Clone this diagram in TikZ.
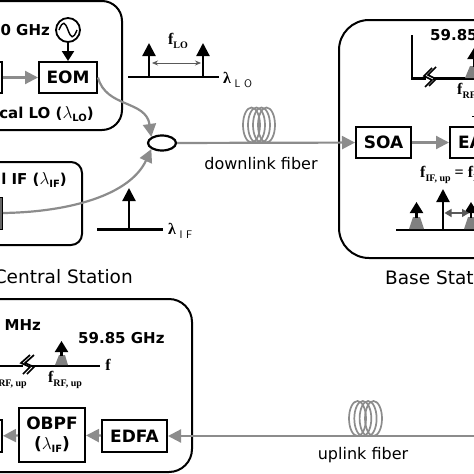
\documentclass[tikz,border=0pt]{standalone}
\usepackage{fontspec}
\setmainfont{DejaVu Sans}
\newfontfamily\serifb{Liberation Serif}
\usetikzlibrary{arrows.meta,shapes.geometric}
\definecolor{gline}{gray}{0.55}
\definecolor{gfill}{gray}{0.5}
\newcommand{\lowsub}[1]{\raisebox{-3pt}{\fontsize{10}{10}\selectfont #1}}
\newcommand{\sersub}[1]{\raisebox{-3.5pt}{\fontsize{10}{10}\selectfont #1}}
\newcommand{\wsub}[1]{\raisebox{-4pt}{\sffamily\mdseries\fontsize{11}{11}\selectfont #1}}
\newcommand{\lam}{\fontsize{16}{16}\selectfont$\lambda$}
\tikzset{
 x=1pt,y=-1pt,
 bx/.style={draw=black,line width=2pt,fill=white,font=\bfseries\fontsize{17}{19}\selectfont,inner sep=0pt,align=center},
 panel/.style={draw=black,line width=2pt},
 gar/.style={draw=gline,line width=2.2pt,-{Triangle[length=13pt,width=13pt]}},
 base/.style={draw=black,line width=2.2pt},
 spike/.style={draw=black,line width=2.2pt,-{Triangle[length=13pt,width=13pt]}},
 spikes/.style={draw=black,line width=2.2pt,-{Triangle[length=11pt,width=13pt]}},
 stationlabel/.style={font=\fontsize{18.5}{20}\selectfont,inner sep=0pt},
 fib/.style={font=\fontsize{16}{18}\selectfont,inner sep=0pt},
 lab/.style={font=\bfseries\fontsize{15}{17}\selectfont,inner sep=0pt},
 sf/.style={font=\serifb\bfseries\fontsize{16}{18}\selectfont,inner sep=0pt},
 thin2/.style={draw=black!65,line width=.7pt,{Stealth[length=6pt,width=5pt]}-{Stealth[length=6pt,width=5pt]}},
 thick2/.style={draw=black!65,line width=1.2pt,{Triangle[length=7pt,width=8pt]}-{Triangle[length=7pt,width=8pt]}},
 blob/.style={draw=none,fill=gfill},
 coil/.style={draw=gline,line width=1.7pt},
 zig/.style={draw=black,line width=1.7pt},
}
\begin{document}
\begin{tikzpicture}
\useasboundingbox (0,0) rectangle (474,474);
\clip (0,0) rectangle (474,474);
\fill[white] (0,0) rectangle (474,474);
% panels
\draw[panel,rounded corners=20pt] (-60,1) rectangle (122,130);
\draw[panel,rounded corners=11pt] (-60,162) rectangle (82,245);
\draw[panel,rounded corners=30pt] (339,20) rectangle (530,258);
\draw[panel,rounded corners=23pt] (-60,299) rectangle (192,472);
% top-left
\node[lab,anchor=east] (ghz) at (50,30) {60 GHz};
\node[draw=black,line width=1.8pt,circle,minimum size=24pt,inner sep=0pt] (osc) at (68,30) {};
\draw[line width=1.4pt] (59,30) .. controls (63,20) and (65,22) .. (68,30) .. controls (71,38) and (73,40) .. (77,30);
\node[bx,minimum width=58pt,minimum height=31pt] (eom) at (68,77.5) {EOM};
\node[bx,anchor=east,minimum width=30pt,minimum height=31pt] (laser) at (3,77.5) {};
\draw[draw=black,line width=2.2pt,-{Triangle[length=10pt,width=12pt]}] (osc) -- (eom);
\draw[gar] (laser) -- (eom);
\node[lab,anchor=east] (lo) at (94,114) {Optical LO ({\lam}\lowsub{LO})};
% LO spectrum
\coordinate (loa) at (128,77);
\coordinate (lob) at (219,77);
\coordinate (s1b) at (149,77);
\coordinate (s1t) at (149,43);
\coordinate (s2b) at (203,77);
\coordinate (s2t) at (203,43);
\draw[base] (loa) -- (lob);
\draw[spike] (s1b) -- (s1t);
\draw[spike] (s2b) -- (s2t);
\coordinate (d1) at (152,63);
\coordinate (d2) at (201,63);
\draw[thin2] (d1) -- (d2);
\node[sf] (flo) at (178,41) {f\sersub{LO}};
\node[sf,anchor=west] (llo) at (223,80) {λ\wsub{ L O}};
% coupler
\node[draw=black,line width=2.2pt,ellipse,minimum width=28pt,minimum height=15pt,inner sep=0pt] (cpl) at (162,143) {};
\draw[gar] (eom.east) .. controls (106,108) and (146,100) .. (cpl.north west);
% IF laser
\node[lab,anchor=east] (if) at (67,180) {Optical IF ({\lam}\lowsub{IF})};
\node[draw=black,line width=1pt,fill=black!60,anchor=east,minimum width=30pt,minimum height=32pt,inner sep=0pt] (iflaser) at (3,213) {};
\draw[gar] (iflaser.east) .. controls (70,212) and (130,195) .. (cpl.south west);
% IF spectrum
\coordinate (ifa) at (97,229.5);
\coordinate (ifb) at (163,229.5);
\coordinate (ifs) at (129,229.5);
\coordinate (ift) at (129,188);
\draw[base] (ifa) -- (ifb);
\draw[spike] (ifs) -- (ift);
\node[sf,anchor=west] (lif) at (168,231) {λ\wsub{ I F}};
\node[stationlabel,anchor=east] (cs) at (133,277) {Central Station};
% downlink
\node[bx,minimum width=55pt,minimum height=31pt] (soa) at (383.5,142.5) {SOA};
\node[bx,anchor=west,inner xsep=8pt,minimum height=31pt] (eam) at (449,142.5) {EAM};
\foreach \x in {251.5,256.5,261.5,266.5}{\draw[coil] (\x,125) ellipse (8.5 and 17.5);}
\draw[gar] (cpl) -- (soa);
\draw[gar] (soa) -- (eam);
\node[fib] (dl) at (261,164) {downlink fiber};
% BS top spectrum
\draw[base] (412,35) -- (412,78.5) -- (530,78.5);
\fill[white] (426,68) rectangle (433,88);
\draw[zig] (432,68) -- (424,76) -- (432,80) -- (425,87);
\draw[zig] (436,67) -- (428,75) -- (436,79) -- (429,86);
\fill[blob] (465,78) -- (470,66) -- (478,66) -- (483,78) -- cycle;
\draw[spikes] (474,67) -- (474,48);
\node[lab,anchor=west] (bsf) at (430,35) {59.85 GHz};
\node[sf,anchor=west] (bsrf) at (457,92) {f\sersub{RF, up}};
\draw[line width=.8pt] (472,116) -- (474,116);
\node[sf,anchor=west] (bsif) at (420,175) {f\sersub{IF, up} = f\sersub{LO}};
% BS bottom spectrum
\draw[base] (396,230) -- (530,230);
\fill[blob] (409,229) -- (413,217) -- (420,217) -- (424,229) -- cycle;
\draw[spikes] (416.5,218) -- (416.5,202);
\draw[spike] (443,230) -- (443,189);
\fill[blob] (464,229) -- (468,217) -- (475,217) -- (479,229) -- cycle;
\draw[spikes] (471,218) -- (471,202);
\draw[thick2] (444.5,213) -- (469,213);
\node[stationlabel,anchor=west] (bs) at (385,278) {Base Station};
% bottom
\node[lab,anchor=east] (mhz) at (41,325) {150 MHz};
\node[lab,anchor=west] (f59) at (78,338) {59.85 GHz};
\draw[base] (-20,366) -- (100,366);
\fill[white] (23,354) rectangle (31,375);
\draw[zig] (30,355) -- (21,363) -- (30,367) -- (23,374);
\draw[zig] (34,355) -- (25,363) -- (34,367) -- (27,374);
\fill[blob] (55,365) -- (59,355) -- (65,355) -- (68,365) -- cycle;
\draw[spikes] (61.5,356) -- (61.5,341);
\node[sf] (ffinal) at (108,365) {f};
\node[sf,anchor=east] (frf1) at (27,380) {f\sersub{RF, up}};
\node[sf] (frf2) at (65,380) {f\sersub{RF, up}};
\node[bx,minimum width=66pt,minimum height=54pt] (obpf) at (52,435) {OBPF\\[1pt]({\lam}\lowsub{IF})};
\node[bx,minimum width=65pt,minimum height=32pt] (edfa) at (134.5,436) {EDFA};
\node[bx,anchor=east,minimum width=20pt,minimum height=32pt] (pd) at (3,436) {};
\coordinate (upr) at (480,436);
\foreach \x in {357.5,362.8,368.1,373.5}{\draw[coil] (\x,418.5) ellipse (8.5 and 17.5);}
\draw[gar] (upr) -- (edfa);
\draw[gar] (edfa) -- (obpf);
\draw[gar] (obpf) -- (pd);
\node[fib] (ul) at (363,455) {uplink fiber};
\end{tikzpicture}
\end{document}
